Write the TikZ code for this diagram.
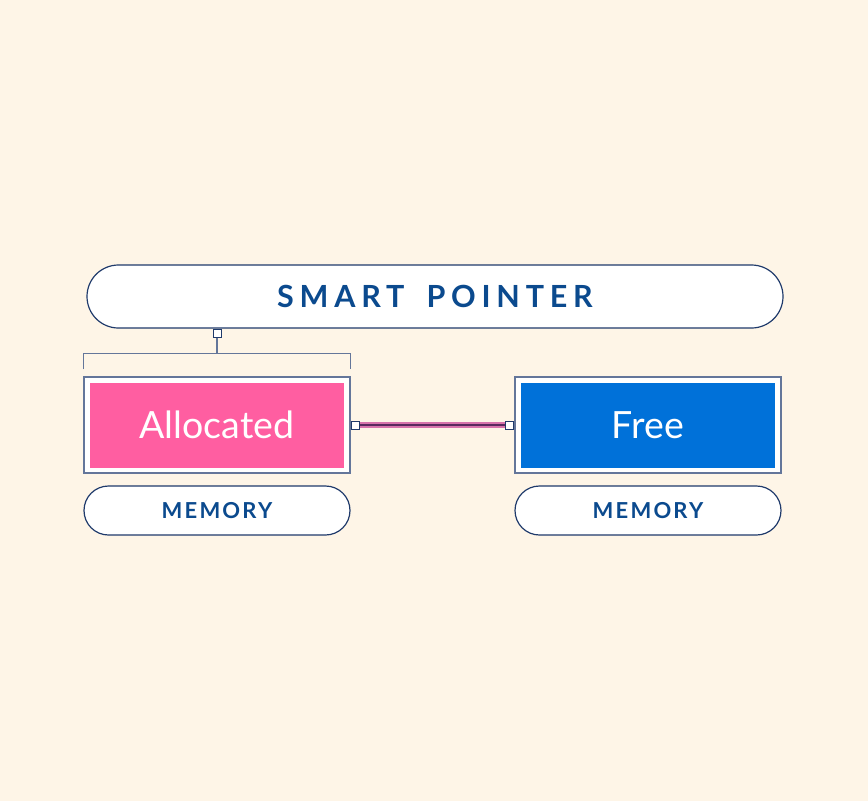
\documentclass[tikz,border=0pt]{standalone}
\usepackage{fontspec}
\setmainfont{Lato}
\newfontfamily\titlefont[LetterSpace=19]{Lato}
\newfontfamily\labelfont[LetterSpace=10]{Lato}
\usetikzlibrary{calc}
\definecolor{bgcream}{HTML}{FEF5E7}
\definecolor{navy}{HTML}{0B4A8E}
\definecolor{pillline}{HTML}{1F3A6B}
\definecolor{framegrey}{HTML}{64769A}
\definecolor{allocpink}{HTML}{FF5EA1}
\definecolor{freeblue}{HTML}{0071D9}
\definecolor{linkpink}{HTML}{D873AC}
\definecolor{linkdark}{HTML}{5A2A5E}

\begin{document}
\begin{tikzpicture}[x=1pt, y=-1pt,
		pill/.style={draw=pillline, line width=1.2pt, fill=white, rounded corners=#1, text=navy},
		frame/.style={draw=framegrey, line width=1.2pt, fill=white, minimum width=266pt, minimum height=96pt},
		cell/.style={fill=#1, text=white, minimum width=254pt, minimum height=85pt, font=\fontsize{37.5}{37.5}\selectfont},
		port/.style={draw=pillline, line width=1pt, fill=white, minimum size=8pt, inner sep=0pt}]
			%%%%% START %%%%%
			
			\fill[bgcream] (0, 0) rectangle (868, 801);
			\useasboundingbox (0, 0) rectangle (868, 801);
			
			\node[pill=31.5pt, minimum width=696pt, minimum height=63pt, font=\titlefont\bfseries\fontsize{30.5}{30.5}\selectfont] (ptr) at (435, 296.5) {SMART\hspace{22pt}POINTER};
			
			\node[frame] (allocframe) at (217, 425) {};
			\node[cell=allocpink] (alloc) at (allocframe.center) {Allocated};
			\node[frame] (freeframe) at (648, 425) {};
			\node[cell=freeblue] (free) at (freeframe.center) {Free};
			
			\node[pill=24.5pt, minimum width=266pt, minimum height=49pt, font=\labelfont\bfseries\fontsize{22}{22}\selectfont] (memalloc) at (217, 510.5) {MEMORY};
			\node[pill=24.5pt, minimum width=266pt, minimum height=49pt, font=\labelfont\bfseries\fontsize{22}{22}\selectfont] (memfree) at (648, 510.5) {MEMORY};
			
			% bracket under the pointer
			\coordinate (brk) at ([yshift=23pt]allocframe.north);
			\draw[framegrey, line width=1.2pt] ([yshift=7pt]allocframe.north west) -- ([yshift=23pt]allocframe.north west) -- ([yshift=23pt]allocframe.north east) -- ([yshift=7pt]allocframe.north east);
			\node[port, anchor=north] (ptrport) at (ptr.south -| allocframe.north) {};
			\draw[framegrey, line width=1.2pt] (ptrport) -- (ptrport |- brk);
			
			% link between the two blocks
			\node[port, anchor=west] (allocport) at (allocframe.east) {};
			\node[port, anchor=east] (freeport) at (freeframe.west) {};
			\draw[linkpink, line width=6pt] (allocport) -- (freeport);
			\draw[linkdark, line width=1.8pt] (allocport) -- (freeport);
			
			%%%%% END %%%%%
\end{tikzpicture}
\end{document}
